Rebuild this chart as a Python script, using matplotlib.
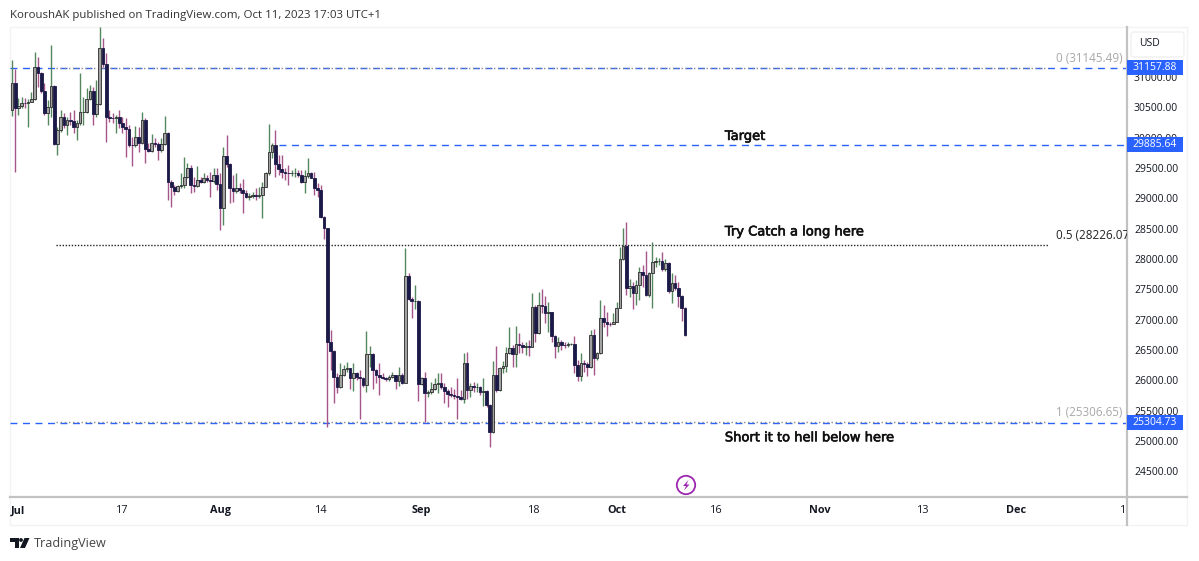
import numpy as np
import matplotlib
matplotlib.use("Agg")
import matplotlib.pyplot as plt
import matplotlib.patheffects as pe
from matplotlib.patches import Circle, Polygon, Rectangle, FancyBboxPatch

# =========================
# DATA (12h candles)
# =========================

opens = [30457,30908,30484,30523,30578,30567,30594,30633,31161,31073,30776,30402,30501,30853,29896,30127,30347,30210,30292,30281,30171,30248,30418,30430,30633,30776,30385,30556,31475,31216,
         30336,30330,30320,30336,30248,30171,30149,29885,29874,30017,29918,30292,29808,29786,29907,29896,29797,29896,30083,29264,29181,29126,29203,29214,29357,29505,29214,29209,29302,29275,
         29341,29302,29286,29385,29236,28845,29703,29560,29165,29120,29165,29137,29082,29027,29043,29049,29043,29049,29192,29412,29764,29885,29566,29478,29434,29423,29412,29418,29423,29379,
         29275,29368,29412,29330,29165,29137,28697,28507,26625,26482,26059,25894,26086,26185,26196,26031,26125,26048,26031,25921,26427,26433,26169,26086,26059,26031,26015,26048,26086,25987,
         26086,25965,27720,27340,27307,27313,25938,26031,25800,25811,25866,25938,25965,25883,25828,25773,25767,25740,25729,25701,26279,25839,25905,25883,25894,25811,25828,25591,25151,26086,
         25839,26196,26235,26444,26527,26433,26592,26581,26554,26570,26554,27214,26774,27241,27230,27115,27120,26730,26565,26636,26581,26576,26592,26598,26251,26070,26279,26275,26213,26746,
         26361,26444,27021,26966,26928,26922,26966,27197,27995,28215,27517,27555,27434,27571,27780,27736,27406,27775,27945,27968,27973,27830,27940,27478,27599,27517,27390,27197]
highs = [31282,31128,30650,30666,30650,30633,30760,31408,31337,31089,30897,30622,31530,30870,30182,30457,30402,30347,30430,30457,30292,31062,30677,30815,30870,30842,30952,31821,31650,31392,
         30457,30402,30375,30457,30347,30320,30210,30017,30193,30182,30418,30320,29907,30061,29990,29934,29990,30358,30100,29302,29220,29220,29412,29687,29577,29550,29357,29539,29357,29412,
         29385,29440,29495,29495,29412,29852,30045,29577,29385,29412,29247,29313,29137,29093,29110,29165,29192,29275,29440,30226,29907,30127,29714,29714,29495,29550,29467,29495,29467,29467,
         29467,29660,29440,29440,29247,29220,28708,28520,26829,26499,26114,26279,26251,26295,26196,26279,26141,26169,26059,26818,26570,26444,26180,26290,26114,26059,26086,26141,26086,26224,
         26114,28177,27775,27379,27571,27324,26059,26141,25839,25976,26031,26125,26114,25960,25866,25883,25866,26031,25839,26444,26460,25960,25976,25960,25905,26031,25839,25608,26317,26565,
         26224,26323,26554,26873,26581,26895,26774,26636,26636,26664,27434,27241,27461,27500,27390,27296,27131,26746,26719,26664,26636,26636,26620,26730,26334,26444,26334,26306,26829,26840,
         26471,27324,27241,27131,26966,27104,27296,28204,28507,28617,27665,27626,27654,27874,27901,28138,27791,28286,28039,28011,28110,27995,27956,27764,27736,27626,27406,27214]
lows = [30358,29428,30375,30484,30484,30182,30594,30622,30842,30732,30375,30210,30347,29880,29714,30100,30155,30045,30210,30072,29962,30210,30210,30402,30622,30210,30347,30540,31172,29923,
        30265,30237,30083,30155,30072,29676,29852,29538,29852,29770,29896,29577,29770,29764,29852,29632,29770,29880,28972,28862,29054,29110,29165,29165,29330,29082,29110,29192,29258,29247,
        29275,29027,29258,29137,28477,28560,29522,28917,28945,29093,29082,28752,29000,28972,29000,28972,29000,28670,29181,29385,29660,29357,29385,29330,29302,29220,29368,29357,29357,29258,
        29082,29330,29330,29054,29027,28670,28325,25234,26169,25619,25795,25877,26070,26141,25866,25828,26004,25355,25894,25811,26224,25866,25960,25756,26015,25993,25993,26031,25866,25905,
        25938,25949,27324,27021,27170,25663,25921,25316,25718,25773,25839,25784,25866,25630,25564,25729,25701,25360,25674,25619,25701,25718,25811,25811,25756,25581,25564,24904,25140,25811,
        25828,26114,26142,26433,26224,26224,26455,26444,26416,26400,26543,26636,26763,27104,26939,26801,26636,26361,26471,26499,26526,26554,26581,26114,25993,25993,26141,26075,26196,26086,
        26334,26433,26884,26730,26895,26939,26955,27186,27984,27406,27368,27170,27241,27324,27544,27390,27379,27186,27874,27901,27808,27808,27434,27269,27489,27214,26983,26735]
closes = [30908,30484,30523,30578,30567,30594,30633,31161,31073,30776,30402,30501,30853,29896,30127,30347,30210,30292,30281,30171,30248,30418,30430,30633,30776,30385,30556,31475,31216,30336,
          30330,30320,30336,30248,30171,30149,29885,29874,30017,29918,30292,29808,29786,29907,29896,29797,29896,30083,29264,29181,29126,29203,29214,29357,29505,29214,29209,29302,29275,29341,
          29302,29286,29385,29236,28845,29703,29560,29165,29120,29165,29137,29082,29027,29043,29049,29043,29049,29192,29412,29764,29885,29566,29478,29434,29423,29412,29418,29423,29379,29275,
          29368,29412,29330,29165,29137,28697,28507,26625,26482,26059,25894,26086,26185,26196,26031,26125,26048,26031,25921,26427,26433,26169,26086,26059,26031,26015,26048,26086,25987,26086,
          25965,27720,27340,27307,27313,25938,26031,25800,25811,25866,25938,25965,25883,25828,25773,25767,25740,25729,25701,26279,25839,25905,25883,25894,25811,25828,25591,25151,26086,25839,
          26196,26235,26444,26527,26433,26592,26581,26554,26570,26554,27214,26774,27241,27230,27115,27120,26730,26565,26636,26581,26576,26592,26598,26251,26070,26279,26275,26213,26746,26361,
          26444,27021,26966,26928,26922,26966,27197,27995,28215,27517,27555,27434,27571,27780,27736,27406,27775,27945,27968,27973,27830,27940,27478,27599,27517,27390,27197,26746]

price_ticks = [24500,25000,25500,26000,26500,27000,27500,28000,28500,29000,29500,30000,30500,31000]
date_labels = ["Jul","17","Aug","14","Sep","18","Oct","16","Nov","13","Dec","1"]
date_ticks = [1.7,33.8,64,95.1,125.8,160.6,186.2,216.6,248.6,280.3,308.9,341.8]
date_bold = ["Jul","Aug","Sep","Oct","Nov","Dec"]

price_tags = [31157.88, 29885.64, 25304.73]
fib_levels = [31145.49, 28226.07, 25306.65]
fib_names = ["0", "0.5", "1"]
notes = ["Target", "Try Catch a long here", "Short it to hell below here"]
note_prices = [29965, 28390, 24995]

# =========================
# FIGURE
# =========================

W, H = 1199, 561
UI_FONT = ["Open Sans", "DejaVu Sans"]
BLUE = "#2962ff"
plt.rcParams["font.family"] = UI_FONT

fig = plt.figure(figsize=(W / 100, H / 100), dpi=100)
fig.patch.set_facecolor("white")

# pane goes from x=10 to x=1127, y=27 to y=497 in pixels
ax = fig.add_axes([10 / W, 1 - 497 / H, 1117 / W, 470 / H])
ax.set_xlim(-0.6, 343)
ax.set_ylim(24077, 31827)

idx = np.arange(len(closes))
o = np.array(opens)
c = np.array(closes)
up = c >= o

ax.vlines(idx[up], np.array(lows)[up], np.array(highs)[up], color="#55875f", lw=1.0, zorder=2)
ax.vlines(idx[~up], np.array(lows)[~up], np.array(highs)[~up], color="#a4568a", lw=1.0, zorder=2)
ax.bar(idx[up], (c - o)[up], bottom=o[up], width=0.78, facecolor="#a2a2a2",
       edgecolor="#2a2a2a", linewidth=0.6, zorder=3)
ax.bar(idx[~up], (c - o)[~up], bottom=o[~up], width=0.82, facecolor="#1a1948",
       edgecolor="#1a1948", linewidth=0.6, zorder=3)

# =========================
# LEVELS
# =========================

ax.hlines(price_tags[0], -0.6, 343, color=BLUE, lw=1, linestyle=(0, (5, 4)), zorder=1)
ax.hlines(price_tags[1], 82, 343, color=BLUE, lw=1, linestyle=(0, (5, 4)), zorder=1)
ax.hlines(price_tags[2], -0.6, 343, color=BLUE, lw=1, linestyle=(0, (5, 4)), zorder=1)
ax.hlines(fib_levels[0], 13.5, 318.8, color="#8a8a8a", lw=1, linestyle=(0, (1, 2)), zorder=1)
ax.hlines(fib_levels[1], 13.5, 318.8, color="#222222", lw=1, linestyle=(0, (1, 1.2)), zorder=1)
ax.hlines(fib_levels[2], 13.5, 318.8, color="#8a8a8a", lw=1, linestyle=(0, (1, 2)), zorder=1)

fib_colors = ["#a8a8a8", "#222222", "#a8a8a8"]
fib_x = [321.2, 321.2, 321.2]
for name, level, col, xpos in zip(fib_names, fib_levels, fib_colors, fib_x):
    ax.text(xpos, level + 105, f"{name} ({level:.2f})", color=col, fontsize=8.4,
            va="baseline", ha="left", clip_on=True, zorder=4)

for text, price in zip(notes, note_prices):
    ax.text(219.3, price, text, color="#111111", fontsize=9.4, family=["DejaVu Sans"],
            va="baseline", zorder=4,
            path_effects=[pe.withStroke(linewidth=0.45, foreground="#111111")])

# =========================
# AXES
# =========================

for side in ["top", "left"]:
    ax.spines[side].set_visible(False)
ax.spines["right"].set_color("#c2c2c2")
ax.spines["right"].set_linewidth(1.6)
ax.spines["bottom"].set_color("#c2c2c2")
ax.spines["bottom"].set_linewidth(1.6)

ax.yaxis.tick_right()
ax.set_yticks(price_ticks)
ax.set_yticklabels([f"{p:.2f}" for p in price_ticks], fontsize=7.5, color="#131722")
ax.tick_params(axis="y", length=0, pad=5)
ax.set_xticks(date_ticks)
ax.set_xticklabels(date_labels, fontsize=7.8, color="#131722")
ax.tick_params(axis="x", length=0, pad=6)
for lab in ax.get_xticklabels():
    if lab.get_text() in date_bold:
        lab.set_fontweight("bold")

ytrans = ax.get_yaxis_transform()
for tag in price_tags:
    ax.add_patch(Rectangle((1.0, tag - 120), 0.0501, 240, transform=ytrans, facecolor=BLUE,
                           edgecolor="none", clip_on=False, zorder=10))
    ax.text(1.0251, tag, f"{tag:.2f}", transform=ytrans, color="white", fontsize=7.5,
            ha="center", va="center", clip_on=False, zorder=11)

# =========================
# PAGE FURNITURE (pixels)
# =========================

page = fig.add_axes([0, 0, 1, 1], zorder=-1)
page.set_xlim(0, W)
page.set_ylim(H, 0)
page.axis("off")
page.add_patch(Rectangle((10, 27), 1177, 498, facecolor="white", edgecolor="#f3f3f3", lw=1))
ax.patch.set_alpha(0)

top = fig.add_axes([0, 0, 1, 1], zorder=5)
top.set_xlim(0, W)
top.set_ylim(H, 0)
top.axis("off")
top.patch.set_alpha(0)

top.plot([1127, 1187], [497, 497], color="#c2c2c2", lw=1.6)
top.plot([1127, 1127], [497, 525], color="#c2c2c2", lw=1.6)
top.add_patch(FancyBboxPatch((1131, 32), 53, 25, boxstyle="round,pad=0,rounding_size=3",
                             facecolor="white", edgecolor="#f0f0f0", lw=1))
top.text(1149, 43.5, "USD", fontsize=7.5, color="#131722", ha="center", va="center")

top.text(10, 15, "KoroushAK published on TradingView.com, Oct 11, 2023 17:03 UTC+1",
         fontsize=8.25, color="#333333", va="center")

# news bolt marker
top.add_patch(Circle((686, 485), 9.2, facecolor="white", edgecolor="#9c27b0", lw=1.3))
top.add_patch(Polygon([(688.5, 480), (683, 486), (686, 486), (684, 490.5), (689.5, 484.5), (686.5, 484.5)],
                      closed=True, facecolor="#9c27b0", edgecolor="none"))

# logo
top.add_patch(Polygon([(10, 538), (19, 538), (19, 548), (14.5, 548), (14.5, 542), (10, 542)],
                      closed=True, facecolor="#131722", edgecolor="none"))
top.add_patch(Circle((21, 540), 1.9, facecolor="#131722", edgecolor="none"))
top.add_patch(Polygon([(24.5, 538), (29.5, 538), (25, 548), (20, 548)],
                      closed=True, facecolor="#131722", edgecolor="none"))
top.text(33.5, 544, "TradingView", fontsize=9.1, color="#444444", va="center")

fig.savefig("out.png", dpi=100)
plt.close(fig)
